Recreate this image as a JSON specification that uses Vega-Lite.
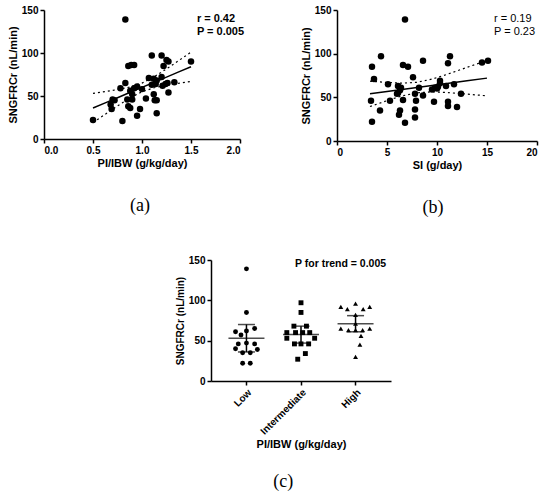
{
  "$schema": "https://vega.github.io/schema/vega-lite/v6.json",
  "description": "SNGFR vs protein intake, three panels",
  "background": "white",
  "padding": {"left": 7, "top": 5, "right": 2, "bottom": 0},
  "datasets": {
    "ptsA": [
      {"pi": 0.50, "sngfr": 22}, {"pi": 0.80, "sngfr": 21}, {"pi": 0.83, "sngfr": 139},
      {"pi": 1.10, "sngfr": 97}, {"pi": 1.20, "sngfr": 97}, {"pi": 1.25, "sngfr": 92},
      {"pi": 1.27, "sngfr": 90}, {"pi": 1.22, "sngfr": 85}, {"pi": 1.50, "sngfr": 90},
      {"pi": 0.86, "sngfr": 85}, {"pi": 0.89, "sngfr": 86}, {"pi": 0.92, "sngfr": 86},
      {"pi": 1.07, "sngfr": 71}, {"pi": 1.12, "sngfr": 70}, {"pi": 1.15, "sngfr": 68},
      {"pi": 1.20, "sngfr": 72}, {"pi": 1.33, "sngfr": 66}, {"pi": 1.26, "sngfr": 65},
      {"pi": 1.21, "sngfr": 62}, {"pi": 0.83, "sngfr": 65}, {"pi": 0.78, "sngfr": 59},
      {"pi": 0.92, "sngfr": 59}, {"pi": 0.95, "sngfr": 61}, {"pi": 0.88, "sngfr": 56},
      {"pi": 1.10, "sngfr": 63}, {"pi": 1.14, "sngfr": 64}, {"pi": 0.70, "sngfr": 46},
      {"pi": 0.68, "sngfr": 40}, {"pi": 0.69, "sngfr": 35}, {"pi": 0.72, "sngfr": 45},
      {"pi": 0.85, "sngfr": 46}, {"pi": 0.90, "sngfr": 46}, {"pi": 0.86, "sngfr": 38},
      {"pi": 0.88, "sngfr": 36}, {"pi": 0.98, "sngfr": 35}, {"pi": 1.04, "sngfr": 47},
      {"pi": 1.12, "sngfr": 52}, {"pi": 1.13, "sngfr": 45}, {"pi": 1.15, "sngfr": 45},
      {"pi": 1.27, "sngfr": 54}, {"pi": 0.95, "sngfr": 27}, {"pi": 1.15, "sngfr": 30},
      {"pi": 0.90, "sngfr": 52}, {"pi": 1.00, "sngfr": 58}, {"pi": 1.24, "sngfr": 64}
    ],
    "fitA": [
      {"pi": 0.5, "fit": 36, "lo": 19, "hi": 53},
      {"pi": 0.625, "fit": 42, "lo": 28.8, "hi": 55.2},
      {"pi": 0.75, "fit": 48, "lo": 38.5, "hi": 57.5},
      {"pi": 0.875, "fit": 54, "lo": 47.6, "hi": 60.4},
      {"pi": 1.0, "fit": 60, "lo": 55, "hi": 65},
      {"pi": 1.125, "fit": 66, "lo": 59.6, "hi": 72.4},
      {"pi": 1.25, "fit": 72, "lo": 62.5, "hi": 81.5},
      {"pi": 1.375, "fit": 78, "lo": 64.8, "hi": 91.2},
      {"pi": 1.5, "fit": 84, "lo": 67, "hi": 101}
    ],
    "ptsB": [
      {"si": 6.8, "sngfr": 139}, {"si": 4.4, "sngfr": 97}, {"si": 3.5, "sngfr": 85},
      {"si": 3.7, "sngfr": 71}, {"si": 3.4, "sngfr": 46}, {"si": 3.5, "sngfr": 22},
      {"si": 4.3, "sngfr": 35}, {"si": 5.1, "sngfr": 65}, {"si": 5.3, "sngfr": 46},
      {"si": 6.6, "sngfr": 87}, {"si": 7.1, "sngfr": 85}, {"si": 6.1, "sngfr": 63},
      {"si": 6.4, "sngfr": 61}, {"si": 6.3, "sngfr": 58}, {"si": 6.0, "sngfr": 54},
      {"si": 6.6, "sngfr": 47}, {"si": 6.2, "sngfr": 30}, {"si": 6.3, "sngfr": 35},
      {"si": 6.8, "sngfr": 21}, {"si": 7.6, "sngfr": 73}, {"si": 7.8, "sngfr": 54},
      {"si": 7.9, "sngfr": 46}, {"si": 7.8, "sngfr": 36}, {"si": 7.8, "sngfr": 27},
      {"si": 8.2, "sngfr": 61}, {"si": 8.6, "sngfr": 92}, {"si": 8.6, "sngfr": 52},
      {"si": 9.5, "sngfr": 59}, {"si": 9.7, "sngfr": 45}, {"si": 10.0, "sngfr": 60},
      {"si": 10.3, "sngfr": 66}, {"si": 10.3, "sngfr": 69}, {"si": 10.9, "sngfr": 63},
      {"si": 11.1, "sngfr": 89}, {"si": 11.3, "sngfr": 97}, {"si": 11.1, "sngfr": 45},
      {"si": 11.1, "sngfr": 40}, {"si": 11.7, "sngfr": 65}, {"si": 12.0, "sngfr": 39},
      {"si": 12.4, "sngfr": 54}, {"si": 14.5, "sngfr": 90}, {"si": 15.1, "sngfr": 92},
      {"si": 6.1, "sngfr": 55}, {"si": 9.8, "sngfr": 61}, {"si": 10.1, "sngfr": 62}
    ],
    "fitB": [
      {"si": 3.3, "fit": 54, "lo": 39.5, "hi": 68.5},
      {"si": 5, "fit": 56.6, "lo": 46.2, "hi": 67.0},
      {"si": 6.5, "fit": 58.9, "lo": 51.6, "hi": 66.2},
      {"si": 8, "fit": 61.2, "lo": 55.2, "hi": 67.2},
      {"si": 9.5, "fit": 63.6, "lo": 56.3, "hi": 70.9},
      {"si": 11, "fit": 65.9, "lo": 55.5, "hi": 76.3},
      {"si": 13, "fit": 69.0, "lo": 53.7, "hi": 84.3},
      {"si": 15, "fit": 72.0, "lo": 51.7, "hi": 92.3}
    ],
    "ptsC": [
      {"group": "Low", "jitter": 0.00, "sngfr": 139},
      {"group": "Low", "jitter": 0.00, "sngfr": 85},
      {"group": "Low", "jitter": -0.20, "sngfr": 61},
      {"group": "Low", "jitter": 0.00, "sngfr": 62},
      {"group": "Low", "jitter": 0.15, "sngfr": 65},
      {"group": "Low", "jitter": -0.10, "sngfr": 57},
      {"group": "Low", "jitter": -0.15, "sngfr": 46},
      {"group": "Low", "jitter": 0.15, "sngfr": 46},
      {"group": "Low", "jitter": 0.00, "sngfr": 47},
      {"group": "Low", "jitter": -0.20, "sngfr": 40},
      {"group": "Low", "jitter": 0.20, "sngfr": 39},
      {"group": "Low", "jitter": -0.07, "sngfr": 35},
      {"group": "Low", "jitter": 0.07, "sngfr": 35},
      {"group": "Low", "jitter": -0.07, "sngfr": 22},
      {"group": "Low", "jitter": 0.07, "sngfr": 22},
      {"group": "Intermediate", "jitter": 0.00, "sngfr": 97},
      {"group": "Intermediate", "jitter": 0.00, "sngfr": 85},
      {"group": "Intermediate", "jitter": -0.13, "sngfr": 68},
      {"group": "Intermediate", "jitter": 0.10, "sngfr": 68},
      {"group": "Intermediate", "jitter": -0.26, "sngfr": 60},
      {"group": "Intermediate", "jitter": -0.10, "sngfr": 60},
      {"group": "Intermediate", "jitter": 0.03, "sngfr": 60},
      {"group": "Intermediate", "jitter": 0.16, "sngfr": 60},
      {"group": "Intermediate", "jitter": -0.26, "sngfr": 53},
      {"group": "Intermediate", "jitter": 0.25, "sngfr": 53},
      {"group": "Intermediate", "jitter": -0.12, "sngfr": 46},
      {"group": "Intermediate", "jitter": 0.00, "sngfr": 46},
      {"group": "Intermediate", "jitter": 0.14, "sngfr": 46},
      {"group": "Intermediate", "jitter": 0.08, "sngfr": 34},
      {"group": "Intermediate", "jitter": -0.06, "sngfr": 27},
      {"group": "High", "jitter": 0.00, "sngfr": 96},
      {"group": "High", "jitter": -0.27, "sngfr": 92},
      {"group": "High", "jitter": 0.26, "sngfr": 92},
      {"group": "High", "jitter": -0.15, "sngfr": 89},
      {"group": "High", "jitter": 0.14, "sngfr": 89},
      {"group": "High", "jitter": 0.00, "sngfr": 82},
      {"group": "High", "jitter": 0.00, "sngfr": 71},
      {"group": "High", "jitter": -0.27, "sngfr": 65},
      {"group": "High", "jitter": 0.26, "sngfr": 65},
      {"group": "High", "jitter": -0.13, "sngfr": 63},
      {"group": "High", "jitter": 0.00, "sngfr": 63},
      {"group": "High", "jitter": 0.13, "sngfr": 63},
      {"group": "High", "jitter": 0.10, "sngfr": 56},
      {"group": "High", "jitter": 0.08, "sngfr": 45},
      {"group": "High", "jitter": 0.00, "sngfr": 30}
    ],
    "sumC": [
      {"group": "Low", "mean": 53, "lo": 36, "hi": 70},
      {"group": "Intermediate", "mean": 57.5, "lo": 47, "hi": 68},
      {"group": "High", "mean": 71, "lo": 61, "hi": 81}
    ]
  },
  "vconcat": [
    {
      "hconcat": [
        {
          "width": 196,
          "height": 129,
          "title": {"text": "(a)", "frame": "group", "dx": -2, "offset": 29},
          "layer": [
            {
              "data": {"name": "fitA"},
              "mark": {"type": "line", "color": "black", "strokeWidth": 1.5},
              "encoding": {
                "x": {"field": "pi", "type": "quantitative"},
                "y": {"field": "fit", "type": "quantitative"}
              }
            },
            {
              "data": {"name": "fitA"},
              "mark": {"type": "line", "color": "black", "strokeWidth": 1.2, "strokeDash": [2, 3]},
              "encoding": {
                "x": {"field": "pi", "type": "quantitative"},
                "y": {"field": "lo", "type": "quantitative"}
              }
            },
            {
              "data": {"name": "fitA"},
              "mark": {"type": "line", "color": "black", "strokeWidth": 1.2, "strokeDash": [2, 3]},
              "encoding": {
                "x": {"field": "pi", "type": "quantitative"},
                "y": {"field": "hi", "type": "quantitative"}
              }
            },
            {
              "data": {"name": "ptsA"},
              "mark": {"type": "circle", "color": "black", "opacity": 1, "size": 42},
              "encoding": {
                "x": {
                  "field": "pi", "type": "quantitative",
                  "scale": {"domain": [0, 2], "nice": false, "padding": 0},
                  "axis": {"values": [0, 0.5, 1, 1.5, 2], "format": ".1f", "title": "PI/IBW (g/kg/day)"}
                },
                "y": {
                  "field": "sngfr", "type": "quantitative",
                  "scale": {"domain": [0, 150], "nice": false, "padding": 0},
                  "axis": {"values": [0, 50, 100, 150], "title": "SNGFRCr (nL/min)"}
                }
              }
            },
            {
              "data": {"values": [{}]},
              "mark": {"type": "text", "text": ["r = 0.42", "P = 0.005"], "align": "left", "baseline": "top", "font": "Liberation Sans", "fontWeight": "bold", "fontSize": 11, "lineHeight": 13},
              "encoding": {
                "x": {"datum": 1.56, "type": "quantitative"},
                "y": {"datum": 146, "type": "quantitative"}
              }
            }
          ]
        },
        {
          "width": 200,
          "height": 131,
          "title": {"text": "(b)", "frame": "group", "dx": -4, "offset": 29},
          "layer": [
            {
              "data": {"name": "fitB"},
              "mark": {"type": "line", "color": "black", "strokeWidth": 1.5},
              "encoding": {
                "x": {"field": "si", "type": "quantitative"},
                "y": {"field": "fit", "type": "quantitative"}
              }
            },
            {
              "data": {"name": "fitB"},
              "mark": {"type": "line", "color": "black", "strokeWidth": 1.2, "strokeDash": [2, 3]},
              "encoding": {
                "x": {"field": "si", "type": "quantitative"},
                "y": {"field": "lo", "type": "quantitative"}
              }
            },
            {
              "data": {"name": "fitB"},
              "mark": {"type": "line", "color": "black", "strokeWidth": 1.2, "strokeDash": [2, 3]},
              "encoding": {
                "x": {"field": "si", "type": "quantitative"},
                "y": {"field": "hi", "type": "quantitative"}
              }
            },
            {
              "data": {"name": "ptsB"},
              "mark": {"type": "circle", "color": "black", "opacity": 1, "size": 42},
              "encoding": {
                "x": {
                  "field": "si", "type": "quantitative",
                  "scale": {"domain": [0, 20], "nice": false, "padding": 0},
                  "axis": {"values": [0, 5, 10, 15, 20], "title": "SI (g/day)"}
                },
                "y": {
                  "field": "sngfr", "type": "quantitative",
                  "scale": {"domain": [0, 150], "nice": false, "padding": 0},
                  "axis": {"values": [0, 50, 100, 150], "title": "SNGFRCr (nL/min)"}
                }
              }
            },
            {
              "data": {"values": [{}]},
              "mark": {"type": "text", "text": ["r = 0.19", "P = 0.23"], "align": "left", "baseline": "top", "font": "Liberation Sans", "fontSize": 11, "lineHeight": 13},
              "encoding": {
                "x": {"datum": 15.7, "type": "quantitative"},
                "y": {"datum": 146, "type": "quantitative"}
              }
            }
          ]
        }
      ],
      "spacing": 55
    },
    {
      "hconcat": [
        {
          "width": 111,
          "height": 10,
          "data": {"values": []},
          "mark": {"type": "point", "opacity": 0},
          "encoding": {}
        },
        {
          "width": 180,
          "height": 121,
          "title": {"text": "(c)", "frame": "bounds", "offset": 24},
          "layer": [
            {
              "data": {"name": "ptsC"},
              "mark": {"type": "point", "filled": true, "color": "black", "opacity": 1, "size": 24},
              "encoding": {
                "x": {
                  "field": "group", "type": "nominal",
                  "sort": ["Low", "Intermediate", "High"],
                  "scale": {"paddingInner": 0, "paddingOuter": 0.15},
                  "axis": {"labelAngle": -45, "title": "PI/IBW (g/kg/day)", "titlePadding": 2}
                },
                "xOffset": {"field": "jitter", "type": "quantitative", "scale": {"domain": [-0.5, 0.5]}},
                "y": {
                  "field": "sngfr", "type": "quantitative",
                  "scale": {"domain": [0, 150], "nice": false, "padding": 0},
                  "axis": {"values": [0, 50, 100, 150], "title": "SNGFRCr (nL/min)", "titleFontSize": 10}
                },
                "shape": {
                  "field": "group", "type": "nominal",
                  "scale": {"domain": ["Low", "Intermediate", "High"], "range": ["circle", "square", "triangle-up"]},
                  "legend": null
                }
              }
            },
            {
              "data": {"name": "sumC"},
              "mark": {"type": "rule", "color": "black", "strokeWidth": 1.5},
              "encoding": {
                "x": {"field": "group", "type": "nominal", "sort": ["Low", "Intermediate", "High"]},
                "y": {"field": "lo", "type": "quantitative"},
                "y2": {"field": "hi"}
              }
            },
            {
              "data": {"name": "sumC"},
              "mark": {"type": "tick", "color": "black", "thickness": 1.5, "size": 36},
              "encoding": {
                "x": {"field": "group", "type": "nominal", "sort": ["Low", "Intermediate", "High"]},
                "y": {"field": "mean", "type": "quantitative"}
              }
            },
            {
              "data": {"name": "sumC"},
              "mark": {"type": "tick", "color": "black", "thickness": 1.5, "size": 17},
              "encoding": {
                "x": {"field": "group", "type": "nominal", "sort": ["Low", "Intermediate", "High"]},
                "y": {"field": "lo", "type": "quantitative"}
              }
            },
            {
              "data": {"name": "sumC"},
              "mark": {"type": "tick", "color": "black", "thickness": 1.5, "size": 17},
              "encoding": {
                "x": {"field": "group", "type": "nominal", "sort": ["Low", "Intermediate", "High"]},
                "y": {"field": "hi", "type": "quantitative"}
              }
            },
            {
              "data": {"values": [{}]},
              "mark": {"type": "text", "text": "P for trend = 0.005", "align": "left", "baseline": "middle", "dx": -6, "font": "Liberation Sans", "fontWeight": "bold", "fontSize": 10.5},
              "encoding": {
                "x": {"datum": "Intermediate"},
                "y": {"datum": 145, "type": "quantitative"}
              }
            }
          ]
        }
      ],
      "spacing": 20
    }
  ],
  "spacing": 38,
  "config": {
    "view": {"stroke": null},
    "axis": {
      "grid": false,
      "domainColor": "black",
      "domainWidth": 1.5,
      "tickColor": "black",
      "tickWidth": 1.5,
      "tickSize": 4,
      "labelFont": "Liberation Sans",
      "labelFontWeight": "bold",
      "labelFontSize": 10,
      "labelColor": "black",
      "titleFont": "Liberation Sans",
      "titleFontWeight": "bold",
      "titleFontSize": 11,
      "titleColor": "black",
      "titleLimit": 300
    },
    "axisX": {"titlePadding": 2},
    "axisY": {"minExtent": 0, "titlePadding": 3},
    "title": {
      "orient": "bottom",
      "font": "Liberation Serif",
      "fontSize": 18,
      "fontWeight": "normal",
      "color": "black"
    }
  }
}
